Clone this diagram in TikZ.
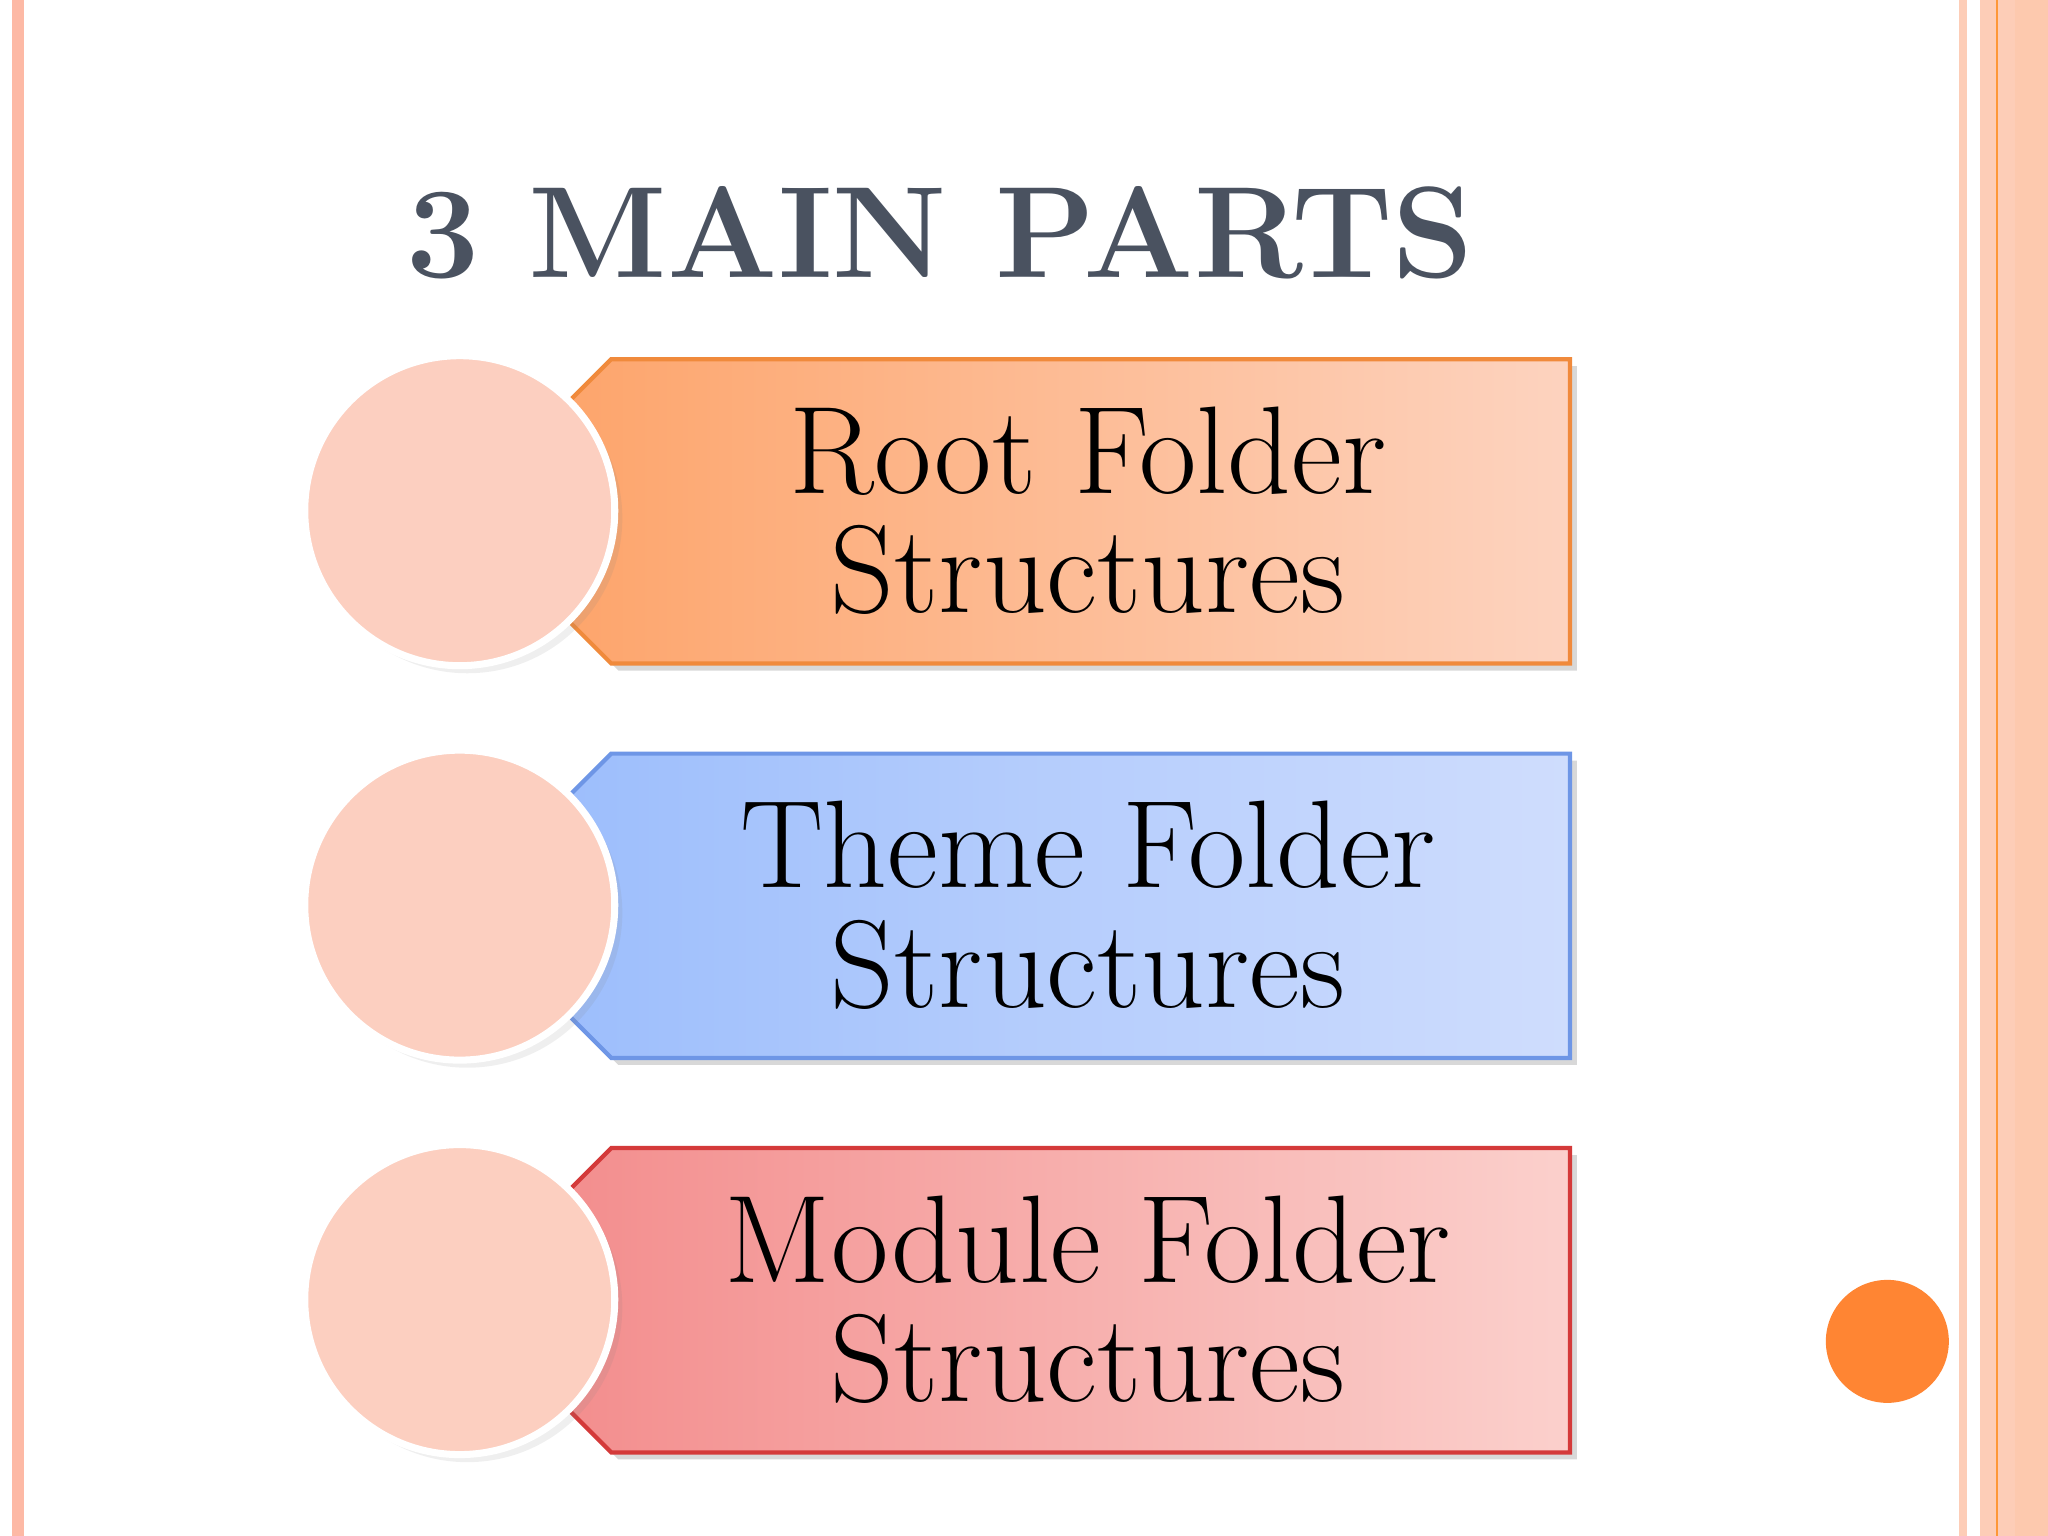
\documentclass[tikz,border=0pt]{standalone}
\usetikzlibrary{shadows}
\definecolor{peach}{HTML}{FDCDB7}
\definecolor{cfill}{HTML}{FCCFC0}
\definecolor{ttl}{HTML}{4A5260}
\definecolor{dotc}{HTML}{FF8533}
\begin{document}
\begin{tikzpicture}[x=0.013061cm,y=-0.013061cm,
  circ/.style={circle,draw=white,line width=2pt,fill=cfill,minimum size=3.1cm,inner sep=0pt},
  lbl/.style={align=center,font=\fontsize{35.5}{34}\selectfont}]
\useasboundingbox (0,0) rectangle (1568,1176);
\fill[white] (0,0) rectangle (1568,1176);
\fill[peach!90!red] (9,0) rectangle (18,1176);
\fill[peach] (1500,0) rectangle (1506,1176);
\fill[peach] (1516,0) rectangle (1568,1176);
\fill[orange!70!peach] (1528,0) rectangle (1530,1176);
\fill[peach!95!orange] (1543,0) rectangle (1568,1176);
\node[font=\bfseries\fontsize{37}{42}\selectfont,text=ttl] (title) at (720,178) {3 MAIN PARTS};
\foreach \y/\c/\d/\e/\t/\n in {275/FDA56C/FDD3BF/F08A3C/{Root Folder\\Structures}/a,
                              577/9DBEFC/CFDDFD/6E96E6/{Theme Folder\\Structures}/b,
                              879/F38E8E/FBD0CC/D43A3A/{Module Folder\\Structures}/c}{
  \definecolor{ca}{HTML}{\c}\definecolor{cb}{HTML}{\d}\definecolor{ce}{HTML}{\e}
  \shade[left color=ca,right color=cb,draw=ce,line width=1.2pt,drop shadow={shadow xshift=2pt,shadow yshift=-2pt,opacity=0.3}]
    (468,\y) -- (1202,\y) -- (1202,\y+233) -- (468,\y+233) -- (435,\y+200) -- (435,\y+33) -- cycle;
  \node[lbl] (t\n) at (833,\y+116) {\t};
  \node[circ,drop shadow={opacity=0.12}] (c\n) at (352,\y+116) {};
}
\node[circle,fill=dotc,minimum size=1.23cm,inner sep=0pt] (dot) at (1445,1027) {};
\end{tikzpicture}
\end{document}
